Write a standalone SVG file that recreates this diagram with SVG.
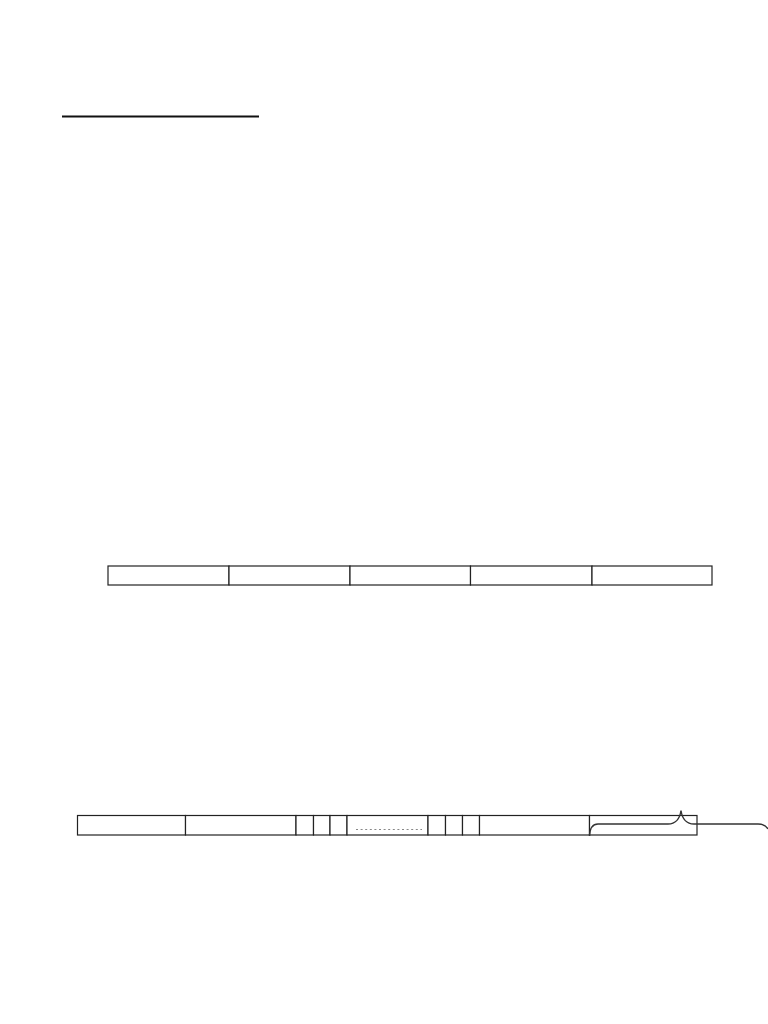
<svg xmlns="http://www.w3.org/2000/svg" width="768" height="1024" viewBox="0 0 768 1024">
<style>
.cell{fill:#fff;stroke:#222;stroke-width:1.2}
.brace{fill:none;stroke:#333;stroke-width:1.4}
</style>
<rect width="768" height="1024" fill="#fff"/>
<line x1="62" y1="116.5" x2="259" y2="116.5" stroke="#111" stroke-width="2.2"/>
<g id="row1">
<rect class="cell" x="108" y="566" width="121" height="19"/>
<rect class="cell" x="229" y="566" width="121" height="19"/>
<rect class="cell" x="350" y="566" width="120.5" height="19"/>
<rect class="cell" x="470.5" y="566" width="121.5" height="19"/>
<rect class="cell" x="592" y="566" width="120" height="19"/>
</g>
<g id="row2">
<rect class="cell" x="77.5" y="815.5" width="108" height="19.5"/>
<rect class="cell" x="185.5" y="815.5" width="110.5" height="19.5"/>
<rect class="cell" x="296" y="815.5" width="17.5" height="19.5"/>
<rect class="cell" x="313.5" y="815.5" width="16.5" height="19.5"/>
<rect class="cell" x="330" y="815.5" width="17" height="19.5"/>
<rect class="cell" x="347" y="815.5" width="81" height="19.5"/>
<line x1="356" y1="829.5" x2="422" y2="829.5" stroke="#888" stroke-width="1" stroke-dasharray="2,2.6"/>
<rect class="cell" x="428" y="815.5" width="17.5" height="19.5"/>
<rect class="cell" x="445.5" y="815.5" width="17" height="19.5"/>
<rect class="cell" x="462.5" y="815.5" width="17" height="19.5"/>
<rect class="cell" x="479.5" y="815.5" width="110" height="19.5"/>
<rect class="cell" x="589.5" y="815.5" width="107.5" height="19.5"/>
</g>
<g id="connectors">
<path class="brace" d="M589.5,836 Q590,824 598,824 L668,824 Q679,824 681,810.5 Q683,824 694,824 L758,824 Q765,824 768,829"/>
</g>
</svg>
